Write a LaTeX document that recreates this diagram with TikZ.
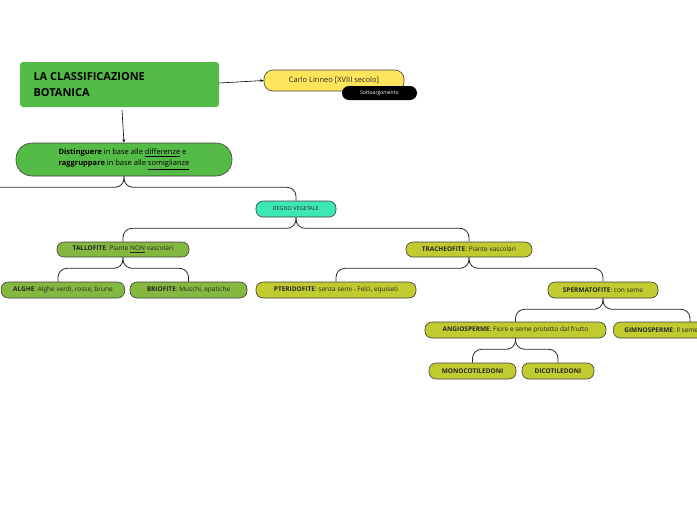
\documentclass[tikz,border=0pt]{standalone}
\usepackage{fontspec}
\setmainfont{Open Sans}
\usetikzlibrary{arrows.meta}
\definecolor{mgreen}{HTML}{55BB47}
\definecolor{myel}{HTML}{FFE45C}
\definecolor{mteal}{HTML}{3EE8B5}
\definecolor{tgreen}{HTML}{85B840}
\definecolor{lime}{HTML}{BFCB2F}
\begin{document}
\begin{tikzpicture}[x=1pt,y=-1pt,
  pill/.style={draw=black!75,line width=0.6pt,rounded corners=7pt,inner sep=0pt,font=\fontsize{6.5}{7.5}\selectfont,text=black!85},
  tal/.style={pill,fill=tgreen},
  lim/.style={pill,fill=lime},
  conn/.style={draw=black!85,line width=0.8pt,rounded corners=9pt},
  arr/.style={draw=black,line width=0.6pt,-{Stealth[length=3.5pt]}}]
\useasboundingbox (0,0) rectangle (697,520);
\clip (0,0) rectangle (697,520);
\node[fill=mgreen,rounded corners=3pt,minimum width=199pt,minimum height=45pt,inner sep=0pt] (title) at (119.5,84.5) {};
\node[anchor=west,align=left,font=\fontsize{11}{16}\selectfont\bfseries] (tt) at (30,84.5) {LA CLASSIFICAZIONE\\BOTANICA};
\node[pill,fill=myel,minimum width=140pt,minimum height=21pt,font=\fontsize{7.5}{9}\selectfont,rounded corners=9pt] (carlo) at (334,80.5) {Carlo Linneo [XVIII secolo]};
\node[fill=black,text=white,rounded corners=7pt,minimum width=75pt,minimum height=14pt,inner sep=0pt,font=\fontsize{5}{6}\selectfont] (sotto) at (379.5,93) {Sottoargomento};
\node[pill,fill=mgreen,minimum width=216pt,minimum height=33pt,rounded corners=16pt,align=left,font=\fontsize{7.5}{11}\selectfont,text=black] (dist) at (124,159.5) {\textbf{Distinguere} in base alle \underline{differenze} e\\\textbf{raggruppare} in base alle \underline{somiglianze}};
\node[pill,fill=mteal,minimum width=80pt,minimum height=16pt,font=\fontsize{5.5}{6}\selectfont] (regno) at (296,209) {REGNO VEGETALE};
\node[tal,minimum width=132pt,minimum height=15pt] (tallo) at (123,249.5) {\textbf{TALLOFITE}: Piante \underline{NON} vascolari};
\node[lim,minimum width=126pt,minimum height=15pt] (trach) at (469,249.5) {\textbf{TRACHEOFITE}: Piante vascolari};
\node[tal,minimum height=16pt,inner xsep=12pt,anchor=east] (alghe) at (125,290) {\textbf{ALGHE}: Alghe verdi, rosse, brune};
\node[tal,minimum width=117pt,minimum height=16pt] (brio) at (188.5,290) {\textbf{BRIOFITE}: Muschi, epatiche};
\node[lim,minimum width=160pt,minimum height=16pt] (pter) at (336,290) {\textbf{PTERIDOFITE}: senza semi - Felci, equiseti};
\node[lim,minimum width=110pt,minimum height=16pt] (sperm) at (603,290) {\textbf{SPERMATOFITE}: con seme};
\node[lim,minimum width=181pt,minimum height=16pt] (angio) at (515.5,330) {\textbf{ANGIOSPERME}: Fiore e seme protetto dal frutto};
\node[lim,minimum height=16pt,inner xsep=11pt,anchor=west] (gimno) at (613,330) {\textbf{GIMNOSPERME}: Il seme nudo};
\node[lim,minimum width=87pt,minimum height=16pt] (mono) at (472.5,371) {\textbf{MONOCOTILEDONI}};
\node[lim,minimum width=72pt,minimum height=16pt] (dico) at (558,371) {\textbf{DICOTILEDONI}};
\coordinate (offl) at (-20,187);
\coordinate (gtop) at (690,322);
\coordinate (atop) at (58,282);
% connectors
\draw[arr] (219,83) -- (carlo.west);
\draw[arr] (122,110) -- (dist.north);
\draw[conn] (dist.south) -- ++(0,11) -| (offl);
\draw[conn] (dist.south) -- ++(0,11) -| (regno.north);
\draw[conn] (regno.south) -- ++(0,11) -| (tallo.north);
\draw[conn] (regno.south) -- ++(0,11) -| (trach.north);
\draw[conn] (tallo.south) -- ++(0,11) -| (atop);
\draw[conn] (tallo.south) -- ++(0,11) -| (brio.north);
\draw[conn] (trach.south) -- ++(0,11) -| (pter.north);
\draw[conn] (trach.south) -- ++(0,11) -| (sperm.north);
\draw[conn] (sperm.south) -- ++(0,11) -| (angio.north);
\draw[conn] (sperm.south) -- ++(0,11) -| (gtop);
\draw[conn] (angio.south) -- ++(0,11) -| (mono.north);
\draw[conn] (angio.south) -- ++(0,11) -| (dico.north);
\end{tikzpicture}
\end{document}
